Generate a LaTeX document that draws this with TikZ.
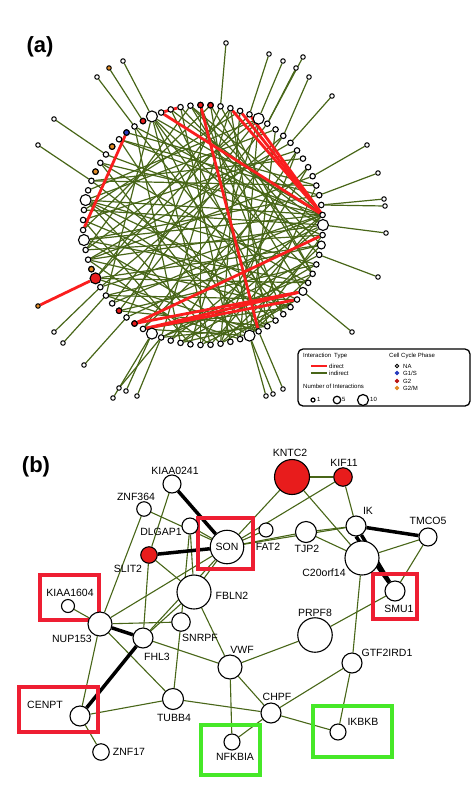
\documentclass[tikz,border=0pt]{standalone}
\usepackage{fontspec}
\setmainfont{Liberation Sans}
\usetikzlibrary{calc}
\pgfdeclarelayer{bg}
\pgfsetlayers{bg,main}
\definecolor{egreen}{RGB}{72,102,24}
\definecolor{ered}{RGB}{250,30,30}
\definecolor{nred}{RGB}{232,28,28}
\definecolor{nblue}{RGB}{40,60,190}
\definecolor{norange}{RGB}{225,140,40}
\definecolor{bred}{RGB}{238,30,50}
\definecolor{bgreen}{RGB}{70,232,40}
\begin{document}
\begin{tikzpicture}[x=1pt,y=-1pt,
  ndw/.style={circle,draw,fill=white,line width=1.1pt,inner sep=0pt,minimum size=5.5pt},
  ndb/.style={ndw,minimum size=11pt},
  ndm/.style={ndw,minimum size=8pt},
  ndr/.style={ndw,fill=nred},
  ndR/.style={ndw,fill=nred,minimum size=11pt},
  ndB/.style={ndw,fill=nblue},
  ndO/.style={ndw,fill=norange},
  lf/.style={circle,draw,fill=white,line width=1pt,inner sep=0pt,minimum size=4.5pt},
  lfo/.style={lf,fill=norange},
  ge/.style={draw=egreen,line width=1.2pt},
  re/.style={draw=ered,line width=2.8pt},
  tk/.style={draw=black,line width=3.5pt},
  bn/.style={circle,draw,fill=white,line width=1.1pt,inner sep=0pt,minimum size=#1},
  rn/.style={bn=#1,fill=nred},
  lbl/.style={inner sep=0pt,font=\fontsize{10.5}{12}\selectfont},
  lg/.style={inner sep=0pt,anchor=west,font=\fontsize{6}{7}\selectfont},
  rbox/.style={draw=bred,line width=3.3pt},
  gbox/.style={draw=bgreen,line width=3.3pt},
  ttl/.style={inner sep=0pt,font=\fontsize{22}{24}\selectfont\bfseries}
]
\useasboundingbox (0,0) rectangle (474,804);
\node[ttl] (ta) at (40,47) {(a)};
\node[ttl] (tb) at (36,467) {(b)};

% ---------- panel (a): circle of nodes ----------
\begin{scope}[shift={(203,225)}]
  \foreach \k [evaluate=\k as \ang using \k*4.8] in {0,...,74}
    \node[ndw] (c\k) at (\ang:120pt) {};
  \foreach \k/\s [evaluate=\k as \ang using \k*4.8] in
    {0/ndb,13/ndb,18/ndr,19/ndr,24/ndb,25/ndr,27/ndB,29/ndO,32/ndO,35/ndb,39/ndb,
     42/ndO,43/ndR,47/ndr,49/ndr,51/ndb,61/ndb,68/ndm,73/ndm}
    \node[\s] (c\k) at (\ang:120pt) {};
\end{scope}

% leaves
\foreach \x/\y/\k [count=\n] in
  {226/43/17,269/54/14,283/61/13,303/57/12,296/68/12,309/77/10,332/96/9,
   367/145/5,378/173/3,384/199/2,385/206/2,386/233/0,378/277/72,352/332/68,
   283/389/62,273/394/61,266/396/61,119/388/52,126/391/51,113/398/51,137/396/52,
   84/365/48,63/343/45,54/332/44,38/145/33,54/119/30,97/77/26,123/61/24}
{
  \node[lf] (l\n) at (\x,\y) {};
  \begin{pgfonlayer}{bg}\draw[ge] (l\n) -- (c\k);\end{pgfonlayer}
}
\node[lfo] (lo1) at (109,68) {};
\node[lfo] (lo2) at (38,306) {};

\begin{pgfonlayer}{bg}
  \draw[ge] (lo1) -- (c25);
  \draw[re] (lo2) -- (c43);
  \foreach \i/\j in {1/24,1/28,1/35,1/39,1/44,1/46,1/53,1/57,1/20,1/31,
    0/22,0/36,0/41,0/48,0/54,0/26,74/30,74/40,73/45,72/52,73/20,
    4/33,5/41,6/50,4/27,8/37,10/44,8/53,
    13/34,13/40,13/46,13/55,13/60,15/36,16/43,17/48,15/58,16/63,17/70,
    18/38,19/56,18/61,19/65,18/70,20/40,21/59,22/64,20/68,21/72,
    24/45,24/57,24/62,24/66,24/70,26/54,28/61,26/65,28/3,
    31/60,33/64,31/69,33/7,35/58,35/63,35/67,35/71,35/11,
    37/55,39/61,37/66,39/69,39/3,41/57,43/62,41/66,43/69,43/73,41/9,43/14,
    45/60,47/63,45/67,47/71,47/12,50/61,52/63,50/66,52/70,50/10,52/16,
    54/64,56/67,54/71,56/6,58/67,58/73,58/8,61/70,61/74,61/4,61/11}
    \draw[ge] (c\i) -- (c\j);
  \foreach \i/\j in {23/1,16/1,15/1,14/1,19/62,49/74,49/68,50/67,50/68,27/38,21/23}
    \draw[re] (c\i) -- (c\j);
\end{pgfonlayer}

% legend
\draw[line width=1.3pt,rounded corners=5pt] (298,349) rectangle (470,406);
\node[lg] (lg1) at (303,356) {Interaction\enspace Type};
\coordinate (r1) at (311,366); \coordinate (r2) at (327,366);
\draw[re,line width=2.2pt] (r1) -- (r2);
\node[lg] (lg2) at (329,366) {direct};
\coordinate (g1) at (311,373); \coordinate (g2) at (327,373);
\draw[ge] (g1) -- (g2);
\node[lg] (lg3) at (329,373) {indirect};
\node[lg] (lg4) at (303,386) {Number of Interactions};
\node[ndw,minimum size=4pt,line width=1.2pt] (s1) at (313,400) {};
\node[lg] (s1t) at (317,399.5) {1};
\node[ndw,minimum size=7.5pt,line width=1.2pt] (s5) at (337,400) {};
\node[lg] (s5t) at (342,399.5) {5};
\node[ndw,minimum size=11pt,line width=1.2pt] (s10) at (363,400) {};
\node[lg] (s10t) at (370,399.5) {10};
\node[lg] (lg5) at (389,356) {Cell Cycle Phase};
\node[lf,minimum size=3.5pt] (pNA) at (397,366) {};
\node[lg] (tNA) at (403,366) {NA};
\node[lf,minimum size=3.5pt,fill=nblue,draw=nblue] (pG1) at (397,373) {};
\node[lg] (tG1) at (403,373) {G1/S};
\node[lf,minimum size=3.5pt,fill=nred!80!black,draw=nred!80!black] (pG2) at (397,381) {};
\node[lg] (tG2) at (403,381) {G2};
\node[lf,minimum size=3.5pt,fill=norange,draw=norange] (pGM) at (397,388) {};
\node[lg] (tGM) at (403,388) {G2/M};

% ---------- panel (b) ----------
\draw[rbox] (198,518) rectangle (253,569);
\draw[rbox] (40,575) rectangle (99,620);
\draw[rbox] (373,574) rectangle (417,619);
\draw[rbox] (19,687) rectangle (98,732);
\draw[gbox] (201,725) rectangle (260,775);
\draw[gbox] (313,706) rectangle (392,757);

\node[rn=35pt] (KNTC2) at (292,477) {};
\node[rn=18.5pt] (KIF11) at (343,477) {};
\node[bn=18pt] (KIAA0241) at (172,484) {};
\node[bn=14.5pt] (ZNF364) at (144,509) {};
\node[bn=16pt] (DLGAP1) at (190,526) {};
\node[bn=33.5pt,lbl] (SON) at (227,547) {SON};
\node[bn=14pt] (FAT2) at (266,530) {};
\node[bn=21pt] (TJP2) at (306,532) {};
\node[bn=20pt] (IK) at (356,526) {};
\node[bn=18pt] (TMCO5) at (428,537) {};
\node[bn=34pt] (C20orf14) at (362,558) {};
\node[rn=16.5pt] (SLIT2) at (149,555) {};
\node[bn=34pt] (FBLN2) at (194,592) {};
\node[bn=13pt] (KIAA1604) at (68,606) {};
\node[bn=24pt] (NUP153) at (100,624) {};
\node[bn=18.5pt] (SNRPF) at (181,622) {};
\node[bn=20pt] (FHL3) at (143,638) {};
\node[bn=20pt] (SMU1) at (395,591) {};
\node[bn=34.5pt] (PRPF8) at (315,635) {};
\node[bn=24pt] (VWF) at (230,667) {};
\node[bn=20pt] (GTF2IRD1) at (352,663) {};
\node[bn=21pt] (TUBB4) at (173,699) {};
\node[bn=20pt] (CHPF) at (271,713) {};
\node[bn=20pt] (CENPT) at (80,716) {};
\node[bn=16pt] (IKBKB) at (338,732) {};
\node[bn=16pt] (NFKBIA) at (232,742) {};
\node[bn=16.5pt] (ZNF17) at (101,752) {};

\begin{pgfonlayer}{bg}
  \foreach \a/\b in {KNTC2/KIF11,KNTC2/SON,KNTC2/C20orf14,KIF11/SON,KIF11/IK,
    KIAA0241/SLIT2,ZNF364/SON,ZNF364/NUP153,DLGAP1/SON,DLGAP1/FBLN2,DLGAP1/SNRPF,
    SON/FAT2,SON/TJP2,SON/IK,SON/FBLN2,SON/NUP153,SON/FHL3,
    SLIT2/FHL3,SLIT2/FBLN2,TJP2/IK,TJP2/C20orf14,IK/C20orf14,TMCO5/C20orf14,
    TMCO5/SMU1,C20orf14/GTF2IRD1,SMU1/PRPF8,PRPF8/VWF,FBLN2/VWF,FBLN2/FHL3,
    KIAA1604/NUP153,NUP153/SNRPF,NUP153/CENPT,NUP153/TUBB4,FHL3/VWF,SNRPF/TUBB4,
    VWF/NFKBIA,VWF/CHPF,TUBB4/CENPT,TUBB4/CHPF,CHPF/NFKBIA,CHPF/GTF2IRD1,
    CHPF/IKBKB,GTF2IRD1/IKBKB,CENPT/ZNF17}
    \draw[ge,line width=1.1pt] (\a) -- (\b);
  \foreach \a/\b in {KIAA0241/SON,SLIT2/SON,NUP153/FHL3,FHL3/CENPT,IK/TMCO5,IK/SMU1}
    \draw[tk] (\a) -- (\b);
  \draw[tk] (IK.south) -- (SMU1);
\end{pgfonlayer}

\node[lbl] (tKNTC2) at (290,453) {KNTC2};
\node[lbl] (tKIF11) at (344,463) {KIF11};
\node[lbl] (tKIAA0241) at (175,471) {KIAA0241};
\node[lbl] (tZNF364) at (136,497) {ZNF364};
\node[lbl] (tDLGAP1) at (161,532) {DLGAP1};
\node[lbl] (tFAT2) at (268,547) {FAT2};
\node[lbl] (tTJP2) at (307,549) {TJP2};
\node[lbl] (tIK) at (368,511) {IK};
\node[lbl] (tTMCO5) at (428,521) {TMCO5};
\node[lbl] (tC20orf14) at (324,573) {C20orf14};
\node[lbl] (tSLIT2) at (128,569) {SLIT2};
\node[lbl] (tFBLN2) at (232,596) {FBLN2};
\node[lbl] (tKIAA1604) at (70,593) {KIAA1604};
\node[lbl] (tNUP153) at (72,639) {NUP153};
\node[lbl] (tSNRPF) at (200,638) {SNRPF};
\node[lbl] (tFHL3) at (157,657) {FHL3};
\node[lbl] (tVWF) at (242,650) {VWF};
\node[lbl] (tPRPF8) at (315,613) {PRPF8};
\node[lbl] (tSMU1) at (399,609) {SMU1};
\node[lbl] (tGTF2IRD1) at (387,653) {GTF2IRD1};
\node[lbl] (tCHPF) at (277,697) {CHPF};
\node[lbl] (tTUBB4) at (174,718) {TUBB4};
\node[lbl] (tCENPT) at (45,705) {CENPT};
\node[lbl] (tIKBKB) at (363,722) {IKBKB};
\node[lbl] (tNFKBIA) at (235,757) {NFKBIA};
\node[lbl] (tZNF17) at (129,752) {ZNF17};
\end{tikzpicture}
\end{document}
